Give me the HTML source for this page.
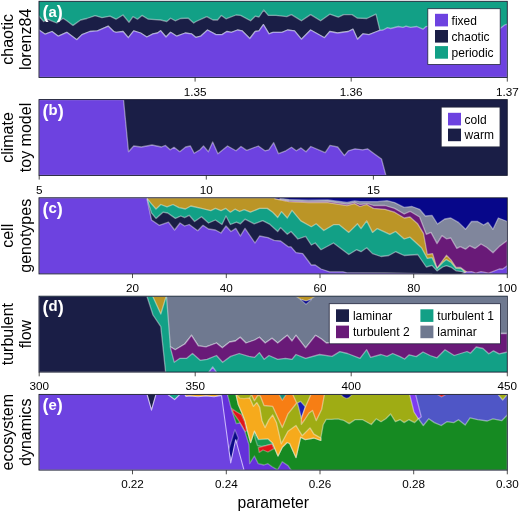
<!DOCTYPE html>
<html lang="en"><head><meta charset="utf-8"><title>figure</title>
<style>html,body{margin:0;padding:0;background:#fff;}body{width:520px;height:513px;overflow:hidden;}svg{display:block;}</style>
</head><body>
<svg width="520" height="513" viewBox="0 0 520 513" font-family="'Liberation Sans', sans-serif">
<defs>
<clipPath id="clip_a"><rect x="39.0" y="1.3" width="468.3" height="76.1"/></clipPath>
<clipPath id="clip_b"><rect x="39.0" y="99.6" width="468.3" height="75.8"/></clipPath>
<clipPath id="clip_c"><rect x="39.0" y="197.8" width="468.3" height="76.1"/></clipPath>
<clipPath id="clip_d"><rect x="39.0" y="296.2" width="468.3" height="75.9"/></clipPath>
<clipPath id="clip_e"><rect x="39.0" y="394.4" width="468.3" height="75.7"/></clipPath>
</defs>
<rect x="0.0" y="0.0" width="520.0" height="513.0" fill="#ffffff" stroke="none" stroke-width="0"/>
<g clip-path="url(#clip_a)">
<rect x="39.0" y="1.3" width="468.3" height="76.1" fill="#12a086" stroke="none" stroke-width="0"/>
<polygon points="39.0,16.2 43.7,21.5 47.5,19.2 51.4,20.8 56.8,23.0 63.0,18.2 66.8,20.8 73.0,25.4 80.6,20.0 86.8,18.5 95.2,15.7 102.0,17.7 110.0,16.2 116.0,19.2 123.0,15.0 129.0,22.3 133.0,16.6 137.5,19.2 142.0,15.4 148.3,19.2 160.6,20.0 166.8,21.5 170.6,18.2 175.2,20.8 180.6,18.5 188.3,18.2 193.7,23.0 196.0,21.5 206.8,16.6 213.0,20.0 217.5,20.0 221.4,15.4 226.0,18.8 236.0,15.0 240.6,15.4 250.6,20.8 255.2,16.2 259.0,17.0 263.7,10.0 268.3,15.4 276.0,15.4 286.8,16.6 291.4,14.6 301.4,20.8 310.6,14.6 320.6,20.8 329.8,14.2 338.3,17.2 343.7,14.6 352.0,14.6 357.5,18.2 366.8,18.5 376.0,14.2 379.8,30.0 379.8,30.3 376.8,31.5 369.0,34.6 363.0,33.8 357.5,39.2 353.0,29.2 348.3,31.5 337.5,33.0 329.8,31.5 324.5,37.7 310.6,30.0 301.4,39.2 294.5,30.8 287.5,30.0 282.0,32.3 273.0,32.3 269.0,33.8 263.4,24.6 259.0,30.8 255.2,31.5 249.8,38.5 242.0,30.8 237.5,30.0 231.4,32.3 226.8,31.5 222.0,34.6 216.0,34.6 207.5,30.0 200.6,36.2 196.0,37.4 191.4,33.8 185.2,33.0 176.8,36.2 170.6,32.3 166.0,37.0 160.6,30.8 157.5,33.0 153.0,33.8 146.8,37.0 140.6,33.0 133.7,30.8 128.3,37.7 123.0,31.5 116.0,32.3 113.7,31.5 108.3,26.2 97.5,30.8 89.8,31.5 82.0,34.6 76.8,39.7 66.8,32.3 58.3,36.2 52.0,31.5 45.2,34.2 39.0,30.0" fill="#1a1e46" stroke="#ffffff" stroke-opacity="0.42" stroke-width="1.3" stroke-linejoin="round"/>
<polygon points="39.0,30.0 45.2,34.2 52.0,31.5 58.3,36.2 66.8,32.3 76.8,39.7 82.0,34.6 89.8,31.5 97.5,30.8 108.3,26.2 113.7,31.5 116.0,32.3 123.0,31.5 128.3,37.7 133.7,30.8 140.6,33.0 146.8,37.0 153.0,33.8 157.5,33.0 160.6,30.8 166.0,37.0 170.6,32.3 176.8,36.2 185.2,33.0 191.4,33.8 196.0,37.4 200.6,36.2 207.5,30.0 216.0,34.6 222.0,34.6 226.8,31.5 231.4,32.3 237.5,30.0 242.0,30.8 249.8,38.5 255.2,31.5 259.0,30.8 263.4,24.6 269.0,33.8 273.0,32.3 282.0,32.3 287.5,30.0 294.5,30.8 301.4,39.2 310.6,30.0 324.5,37.7 329.8,31.5 337.5,33.0 348.3,31.5 353.0,29.2 357.5,39.2 363.0,33.8 369.0,34.6 376.8,31.5 379.8,30.3 383.0,30.0 387.5,27.7 390.6,28.5 398.3,26.5 403.0,27.4 406.0,26.2 410.6,27.4 416.8,26.5 423.0,29.2 426.0,26.6 432.0,25.5 440.0,26.3 448.0,25.2 456.0,26.4 464.0,25.4 472.0,26.6 480.0,25.6 488.0,27.2 495.0,26.4 499.8,28.8 504.6,25.0 507.3,24.2 507.3,77.4 39.0,77.4" fill="#6d42e0" stroke="#ffffff" stroke-opacity="0.42" stroke-width="1.3" stroke-linejoin="round"/>
</g>
<rect x="39.0" y="1.3" width="468.3" height="76.1" fill="none" stroke="#15182e" stroke-width="0.9"/>
<rect x="427.8" y="8.7" width="72.4" height="55.8" fill="#ffffff" stroke="#23263d" stroke-width="0.8"/>
<rect x="435.0" y="13.8" width="13.0" height="12.6" fill="#6d42e0" stroke="none" stroke-width="0"/>
<text x="451.6" y="24.5" font-size="12" text-anchor="start" font-weight="normal" fill="#000">fixed</text>
<rect x="435.0" y="30.0" width="13.0" height="12.6" fill="#1a1e46" stroke="none" stroke-width="0"/>
<text x="451.6" y="40.7" font-size="12" text-anchor="start" font-weight="normal" fill="#000">chaotic</text>
<rect x="435.0" y="46.1" width="13.0" height="12.6" fill="#12a086" stroke="none" stroke-width="0"/>
<text x="451.6" y="56.8" font-size="12" text-anchor="start" font-weight="normal" fill="#000">periodic</text>
<line x1="195.1" y1="77.4" x2="195.1" y2="81.6" stroke="#222" stroke-width="0.8"/>
<text x="195.1" y="95.7" font-size="11.7" text-anchor="middle" font-weight="normal" fill="#000">1.35</text>
<line x1="351.2" y1="77.4" x2="351.2" y2="81.6" stroke="#222" stroke-width="0.8"/>
<text x="351.2" y="95.7" font-size="11.7" text-anchor="middle" font-weight="normal" fill="#000">1.36</text>
<line x1="507.3" y1="77.4" x2="507.3" y2="81.6" stroke="#222" stroke-width="0.8"/>
<text x="507.3" y="95.7" font-size="11.7" text-anchor="middle" font-weight="normal" fill="#000">1.37</text>
<text x="13.1" y="39.4" font-size="16" text-anchor="middle" font-weight="normal" fill="#000" transform="rotate(-90 13.1 39.4)">chaotic</text>
<text x="30.8" y="39.4" font-size="16" text-anchor="middle" font-weight="normal" fill="#000" transform="rotate(-90 30.8 39.4)">lorenz84</text>
<text x="42.5" y="18.2" font-weight="bold" fill="#ffffff"><tspan font-size="18.1">(</tspan><tspan font-size="14.9" dy="-1.7">a</tspan><tspan font-size="18.1" dy="1.7">)</tspan></text>
<g clip-path="url(#clip_b)">
<rect x="39.0" y="99.6" width="468.3" height="75.8" fill="#1a1e46" stroke="none" stroke-width="0"/>
<polygon points="39.0,99.6 123.5,99.6 128.5,151.7 133.7,146.0 141.3,147.0 152.0,145.0 161.5,147.0 165.4,145.4 170.2,149.8 174.0,147.3 179.8,151.7 185.6,147.0 190.4,146.0 194.2,153.2 200.0,149.8 203.5,146.0 208.3,151.7 212.7,142.0 217.9,153.7 227.5,146.0 236.0,150.8 241.0,146.5 246.7,150.4 258.3,146.0 265.0,150.8 268.8,149.8 273.7,142.7 278.5,153.7 285.8,150.8 291.5,147.3 296.3,150.8 301.0,147.9 306.0,151.7 310.8,146.5 325.2,152.7 330.0,145.4 337.7,147.0 344.4,155.6 348.3,150.8 355.0,148.8 362.7,149.8 367.5,148.8 374.2,153.7 381.5,159.0 385.9,175.4 39.0,175.4" fill="#6d42e0" stroke="#ffffff" stroke-opacity="0.42" stroke-width="1.3" stroke-linejoin="round"/>
</g>
<rect x="39.0" y="99.6" width="468.3" height="75.8" fill="none" stroke="#15182e" stroke-width="0.9"/>
<rect x="441.2" y="107.1" width="58.8" height="39.8" fill="#ffffff" stroke="#23263d" stroke-width="0.8"/>
<rect x="448.0" y="112.8" width="13.0" height="12.6" fill="#6d42e0" stroke="none" stroke-width="0"/>
<text x="464.6" y="123.5" font-size="12" text-anchor="start" font-weight="normal" fill="#000">cold</text>
<rect x="448.0" y="128.6" width="13.0" height="12.6" fill="#1a1e46" stroke="none" stroke-width="0"/>
<text x="464.6" y="139.3" font-size="12" text-anchor="start" font-weight="normal" fill="#000">warm</text>
<line x1="39.2" y1="175.4" x2="39.2" y2="179.6" stroke="#222" stroke-width="0.8"/>
<text x="39.2" y="193.7" font-size="11.7" text-anchor="middle" font-weight="normal" fill="#000">5</text>
<line x1="206.3" y1="175.4" x2="206.3" y2="179.6" stroke="#222" stroke-width="0.8"/>
<text x="206.3" y="193.7" font-size="11.7" text-anchor="middle" font-weight="normal" fill="#000">10</text>
<line x1="373.4" y1="175.4" x2="373.4" y2="179.6" stroke="#222" stroke-width="0.8"/>
<text x="373.4" y="193.7" font-size="11.7" text-anchor="middle" font-weight="normal" fill="#000">15</text>
<text x="13.1" y="137.5" font-size="16" text-anchor="middle" font-weight="normal" fill="#000" transform="rotate(-90 13.1 137.5)">climate</text>
<text x="30.8" y="137.5" font-size="16" text-anchor="middle" font-weight="normal" fill="#000" transform="rotate(-90 30.8 137.5)">toy model</text>
<text x="42.5" y="116.5" font-weight="bold" fill="#ffffff"><tspan font-size="18.1">(</tspan><tspan font-size="14.9" dy="-1.7">b</tspan><tspan font-size="18.1" dy="1.7">)</tspan></text>
<g clip-path="url(#clip_c)">
<rect x="39.0" y="197.8" width="468.3" height="76.1" fill="#07078a" stroke="none" stroke-width="0"/>
<polygon points="280.0,198.2 289.0,199.6 308.5,200.2 327.7,200.0 347.0,202.4 354.6,200.9 360.0,201.7 367.7,201.7 377.3,201.7 387.0,200.7 394.6,202.6 404.2,207.4 412.0,206.5 419.6,209.3 425.4,216.0 432.0,215.4 437.5,224.0 444.7,219.0 450.8,218.0 458.5,222.4 465.5,229.3 471.5,221.5 477.6,221.5 483.6,225.0 488.0,222.4 493.0,229.3 498.3,218.0 507.3,221.5 507.3,273.9 280.0,273.9" fill="#80869c" stroke="#ffffff" stroke-opacity="0.42" stroke-width="1.3" stroke-linejoin="round"/>
<polygon points="274.8,198.6 289.0,200.9 308.5,201.6 327.7,201.4 347.0,204.2 354.6,202.4 360.0,204.5 367.7,203.6 373.5,205.5 385.0,205.5 394.6,208.4 404.2,214.0 410.0,211.3 419.6,217.0 426.3,234.3 431.0,232.4 437.0,243.6 442.0,235.6 446.4,238.8 450.8,238.0 456.8,248.4 460.3,246.6 465.5,249.2 469.8,245.8 475.0,248.4 481.0,244.0 487.0,247.5 493.0,252.7 499.2,246.6 507.3,240.6 507.3,273.9 274.8,273.9" fill="#691a78" stroke="#ffffff" stroke-opacity="0.42" stroke-width="1.3" stroke-linejoin="round"/>
<polygon points="147.0,197.8 274.8,197.8 274.8,198.8 289.0,201.7 308.5,202.6 327.7,202.6 347.0,205.5 354.6,203.6 360.0,206.5 366.7,204.5 373.5,208.4 385.0,209.3 394.6,212.2 404.2,218.0 410.0,217.0 417.7,223.8 423.5,233.4 427.3,254.5 432.6,253.6 437.0,268.3 446.4,255.3 450.8,259.6 456.0,267.4 460.3,267.4 466.3,271.7 466.3,273.9 147.0,273.9" fill="#bb9526" stroke="#ffffff" stroke-opacity="0.42" stroke-width="1.3" stroke-linejoin="round"/>
<polygon points="147.0,198.4 151.5,203.8 156.0,209.0 160.8,204.5 167.0,206.8 173.0,204.5 179.0,207.6 185.4,209.0 190.8,206.0 201.5,208.4 210.8,210.7 215.4,208.4 221.0,210.7 225.8,208.4 230.4,212.2 235.0,209.2 239.6,211.5 244.2,209.6 250.4,212.2 259.6,208.4 267.3,208.4 272.7,212.2 277.7,217.5 281.5,211.6 287.3,218.0 292.0,210.3 300.8,220.9 311.3,226.7 316.2,223.8 323.8,230.5 333.5,224.7 339.2,224.7 348.8,232.4 357.5,223.8 361.0,228.6 366.7,220.9 372.5,232.4 377.3,228.6 389.8,234.3 395.6,231.5 404.2,239.0 410.0,237.2 421.5,247.8 427.3,258.4 432.0,257.6 437.0,268.6 442.7,262.6 446.4,259.6 450.8,262.2 456.0,268.3 461.0,268.6 464.6,271.7 464.6,273.9 147.0,273.9" fill="#12a086" stroke="#ffffff" stroke-opacity="0.42" stroke-width="1.3" stroke-linejoin="round"/>
<polygon points="147.0,198.8 151.5,213.0 156.0,218.4 163.0,212.2 167.7,213.0 175.4,218.4 180.8,216.0 184.6,217.6 189.2,215.3 194.6,221.5 201.5,216.8 208.5,223.0 215.4,220.0 222.0,224.5 226.0,216.0 230.4,224.5 236.5,222.2 240.4,223.8 245.0,219.2 254.2,223.8 262.7,220.7 270.0,224.4 277.7,231.5 280.6,227.6 287.3,234.3 291.0,231.5 297.9,239.0 305.6,236.3 311.3,245.0 315.2,243.0 321.0,249.7 333.5,243.0 348.8,254.5 356.5,249.7 361.0,251.7 366.7,247.8 372.5,253.6 381.0,256.5 388.8,255.5 395.6,251.7 404.2,255.5 417.7,254.5 426.3,267.0 432.0,265.4 437.0,270.9 442.7,267.0 446.4,265.7 451.6,267.4 456.0,270.8 462.0,271.7 465.0,272.6 465.0,273.9 147.0,273.9" fill="#1a1e46" stroke="#ffffff" stroke-opacity="0.42" stroke-width="1.3" stroke-linejoin="round"/>
<polygon points="39.0,197.8 147.0,197.8 147.0,199.0 151.5,220.0 159.2,225.3 168.5,222.2 174.6,230.0 180.0,223.0 184.6,226.0 189.2,224.5 197.7,230.7 203.0,225.3 208.5,229.0 215.4,230.0 221.0,233.0 226.0,226.0 231.0,231.5 235.8,228.4 240.4,236.0 245.0,228.4 255.0,243.0 259.6,236.0 268.0,237.6 274.2,240.4 280.6,241.0 288.3,246.8 291.0,246.8 296.0,252.6 302.7,253.6 311.3,265.0 315.2,265.0 321.0,269.0 329.6,271.8 343.0,271.8 347.0,272.8 385.0,272.9 432.0,273.9 39.0,273.9" fill="#6d42e0" stroke="#ffffff" stroke-opacity="0.42" stroke-width="1.3" stroke-linejoin="round"/>
<polygon points="462.0,273.9 466.3,271.9 471.5,271.7 475.8,273.2 481.0,271.7 488.8,273.2 499.2,269.0 502.7,269.0 507.3,265.7 507.3,273.9 462.0,273.9" fill="#6d42e0" stroke="#ffffff" stroke-opacity="0.42" stroke-width="1.3" stroke-linejoin="round"/>
</g>
<rect x="39.0" y="197.8" width="468.3" height="76.1" fill="none" stroke="#15182e" stroke-width="0.9"/>
<line x1="132.5" y1="273.9" x2="132.5" y2="278.1" stroke="#222" stroke-width="0.8"/>
<text x="132.5" y="292.2" font-size="11.7" text-anchor="middle" font-weight="normal" fill="#000">20</text>
<line x1="226.3" y1="273.9" x2="226.3" y2="278.1" stroke="#222" stroke-width="0.8"/>
<text x="226.3" y="292.2" font-size="11.7" text-anchor="middle" font-weight="normal" fill="#000">40</text>
<line x1="320.0" y1="273.9" x2="320.0" y2="278.1" stroke="#222" stroke-width="0.8"/>
<text x="320.0" y="292.2" font-size="11.7" text-anchor="middle" font-weight="normal" fill="#000">60</text>
<line x1="413.7" y1="273.9" x2="413.7" y2="278.1" stroke="#222" stroke-width="0.8"/>
<text x="413.7" y="292.2" font-size="11.7" text-anchor="middle" font-weight="normal" fill="#000">80</text>
<line x1="507.3" y1="273.9" x2="507.3" y2="278.1" stroke="#222" stroke-width="0.8"/>
<text x="507.3" y="292.2" font-size="11.7" text-anchor="middle" font-weight="normal" fill="#000">100</text>
<text x="13.1" y="235.8" font-size="16" text-anchor="middle" font-weight="normal" fill="#000" transform="rotate(-90 13.1 235.8)">cell</text>
<text x="30.8" y="235.8" font-size="16" text-anchor="middle" font-weight="normal" fill="#000" transform="rotate(-90 30.8 235.8)">genotypes</text>
<text x="42.5" y="214.7" font-weight="bold" fill="#ffffff"><tspan font-size="18.1">(</tspan><tspan font-size="14.9" dy="-1.7">c</tspan><tspan font-size="18.1" dy="1.7">)</tspan></text>
<g clip-path="url(#clip_d)">
<rect x="39.0" y="296.2" width="468.3" height="75.9" fill="#12a086" stroke="none" stroke-width="0"/>
<polygon points="39.0,296.2 146.9,296.2 153.0,315.0 160.8,326.6 165.6,372.1 39.0,372.1" fill="#1a1e46" stroke="#ffffff" stroke-opacity="0.42" stroke-width="1.3" stroke-linejoin="round"/>
<polygon points="152.7,296.2 166.2,296.2 160.8,314.0" fill="#bb9526" stroke="#ffffff" stroke-opacity="0.42" stroke-width="1.3" stroke-linejoin="round"/>
<polygon points="166.5,296.2 507.3,296.2 507.3,333.5 500.0,333.5 480.0,334.3 460.0,335.0 440.0,335.5 420.0,336.0 400.0,337.0 380.0,339.0 360.0,340.0 340.0,342.0 326.3,343.0 321.5,339.0 315.5,335.3 305.6,347.8 296.0,335.3 292.0,341.0 287.3,335.3 277.7,343.0 272.0,338.2 265.2,343.0 259.4,337.2 254.6,340.0 246.0,343.0 240.2,337.2 235.4,341.0 229.6,342.0 222.3,347.8 216.5,343.0 206.0,346.8 198.3,345.8 191.5,335.3 184.8,344.0 175.2,349.7 170.4,346.8" fill="#6f7990" stroke="#ffffff" stroke-opacity="0.42" stroke-width="1.3" stroke-linejoin="round"/>
<polygon points="170.4,346.8 175.2,349.7 184.8,344.0 191.5,335.3 198.3,345.8 206.0,346.8 216.5,343.0 222.3,347.8 229.6,342.0 235.4,341.0 240.2,337.2 246.0,343.0 254.6,340.0 259.4,337.2 265.2,343.0 272.0,338.2 277.7,343.0 287.3,335.3 292.0,341.0 296.0,335.3 305.6,347.8 315.5,335.3 321.5,339.0 326.3,343.0 340.0,342.0 360.0,340.0 380.0,339.0 400.0,337.0 420.0,336.0 440.0,335.5 460.0,335.0 480.0,334.3 500.0,333.5 507.3,333.5 507.3,352.0 499.2,353.8 493.5,350.8 488.8,353.8 483.0,348.5 476.2,347.0 470.4,353.2 467.0,351.5 454.2,355.5 445.0,349.7 437.0,357.8 430.0,355.5 423.0,352.0 416.2,356.6 409.2,354.8 404.6,359.0 400.0,356.6 392.7,353.5 387.0,356.4 381.0,354.5 370.6,357.4 366.7,349.7 360.0,358.3 347.5,353.5 339.8,351.6 332.0,356.4 319.6,354.5 305.6,358.3 296.0,354.5 292.0,359.3 285.4,358.3 277.7,359.3 269.0,355.5 264.2,359.3 259.4,352.6 254.6,357.4 248.8,356.4 239.2,353.5 230.6,356.4 222.6,362.2 216.5,355.5 207.0,359.3 200.2,360.3 192.5,353.5 186.7,358.3 180.0,358.3 174.2,362.2 170.4,347.8" fill="#691a78" stroke="#ffffff" stroke-opacity="0.42" stroke-width="1.3" stroke-linejoin="round"/>
<polygon points="296.0,296.2 315.0,296.2 310.0,299.6 306.0,301.0 301.0,299.6" fill="#bb9526" stroke="#ffffff" stroke-opacity="0.3" stroke-width="1.3" stroke-linejoin="round"/>
<polygon points="300.5,299.4 306.0,301.0 311.5,299.4 306.0,304.2" fill="#07078a" stroke="#ffffff" stroke-opacity="0.3" stroke-width="1.3" stroke-linejoin="round"/>
<polygon points="208.8,372.1 212.7,367.0 216.5,372.1" fill="#6d42e0" stroke="#ffffff" stroke-opacity="0.42" stroke-width="1.3" stroke-linejoin="round"/>
</g>
<rect x="39.0" y="296.2" width="468.3" height="75.9" fill="none" stroke="#15182e" stroke-width="0.9"/>
<rect x="329.2" y="303.7" width="171.2" height="40.1" fill="#ffffff" stroke="#23263d" stroke-width="0.8"/>
<rect x="336.0" y="309.3" width="13.0" height="12.6" fill="#1a1e46" stroke="none" stroke-width="0"/>
<text x="352.9" y="320.0" font-size="12" text-anchor="start" font-weight="normal" fill="#000">laminar</text>
<rect x="336.0" y="325.6" width="13.0" height="12.6" fill="#691a78" stroke="none" stroke-width="0"/>
<text x="352.9" y="336.3" font-size="12" text-anchor="start" font-weight="normal" fill="#000">turbulent 2</text>
<rect x="420.4" y="309.3" width="13.0" height="12.6" fill="#12a086" stroke="none" stroke-width="0"/>
<text x="437.3" y="320.0" font-size="12" text-anchor="start" font-weight="normal" fill="#000">turbulent 1</text>
<rect x="420.4" y="325.6" width="13.0" height="12.6" fill="#6f7990" stroke="none" stroke-width="0"/>
<text x="437.3" y="336.3" font-size="12" text-anchor="start" font-weight="normal" fill="#000">laminar</text>
<line x1="39.2" y1="372.1" x2="39.2" y2="376.3" stroke="#222" stroke-width="0.8"/>
<text x="39.2" y="390.4" font-size="11.7" text-anchor="middle" font-weight="normal" fill="#000">300</text>
<line x1="195.2" y1="372.1" x2="195.2" y2="376.3" stroke="#222" stroke-width="0.8"/>
<text x="195.2" y="390.4" font-size="11.7" text-anchor="middle" font-weight="normal" fill="#000">350</text>
<line x1="351.2" y1="372.1" x2="351.2" y2="376.3" stroke="#222" stroke-width="0.8"/>
<text x="351.2" y="390.4" font-size="11.7" text-anchor="middle" font-weight="normal" fill="#000">400</text>
<line x1="507.3" y1="372.1" x2="507.3" y2="376.3" stroke="#222" stroke-width="0.8"/>
<text x="507.3" y="390.4" font-size="11.7" text-anchor="middle" font-weight="normal" fill="#000">450</text>
<text x="13.1" y="334.1" font-size="16" text-anchor="middle" font-weight="normal" fill="#000" transform="rotate(-90 13.1 334.1)">turbulent</text>
<text x="30.8" y="334.1" font-size="16" text-anchor="middle" font-weight="normal" fill="#000" transform="rotate(-90 30.8 334.1)">flow</text>
<text x="42.5" y="313.1" font-weight="bold" fill="#ffffff"><tspan font-size="18.1">(</tspan><tspan font-size="14.9" dy="-1.7">d</tspan><tspan font-size="18.1" dy="1.7">)</tspan></text>
<g clip-path="url(#clip_e)">
<rect x="39.0" y="394.4" width="468.3" height="75.7" fill="#9fac14" stroke="none" stroke-width="0"/>
<polygon points="414.6,394.4 507.3,394.4 507.3,430.0 418.0,430.0 418.5,417.8" fill="#4f56c6" stroke="#ffffff" stroke-opacity="0.3" stroke-width="1.3" stroke-linejoin="round"/>
<polygon points="409.6,394.4 415.6,394.4 421.3,416.8 418.5,419.0 414.0,412.0" fill="#7d3cf0" stroke="#ffffff" stroke-opacity="0.42" stroke-width="1.3" stroke-linejoin="round"/>
<polygon points="437.3,394.4 446.0,394.4 441.5,396.9" fill="#e0141a" stroke="#ffffff" stroke-opacity="0.3" stroke-width="1.3" stroke-linejoin="round"/>
<polygon points="497.9,394.4 507.5,394.4 502.7,400.0" fill="#9fac14" stroke="#ffffff" stroke-opacity="0.42" stroke-width="1.3" stroke-linejoin="round"/>
<polygon points="340.6,394.4 352.3,394.4 349.0,397.6 346.5,398.4 343.5,397.0" fill="#0a0a86" stroke="#ffffff" stroke-opacity="0.3" stroke-width="1.3" stroke-linejoin="round"/>
<polygon points="251.5,394.4 254.4,400.7 257.8,395.4 260.2,395.8 264.0,405.5 272.7,406.4 277.5,417.0 282.3,427.6 285.2,420.8 288.0,413.8 296.7,403.0 292.8,394.4" fill="#f77e14" stroke="#ffffff" stroke-opacity="0.42" stroke-width="1.3" stroke-linejoin="round"/>
<polygon points="279.0,394.4 282.3,400.2 286.2,394.4" fill="#15907a" stroke="#ffffff" stroke-opacity="0.3" stroke-width="1.3" stroke-linejoin="round"/>
<polygon points="297.5,403.0 300.6,401.4 305.3,406.8 301.4,418.5" fill="#1c1cb4" stroke="#ffffff" stroke-opacity="0.4" stroke-width="1.3" stroke-linejoin="round"/>
<polygon points="310.9,394.4 324.4,394.4 321.7,409.2 316.2,420.6 312.5,410.4 309.0,413.0 304.8,419.5 301.3,424.3 301.4,418.5 305.6,406.4" fill="#f77e14" stroke="#ffffff" stroke-opacity="0.42" stroke-width="1.3" stroke-linejoin="round"/>
<polygon points="227.4,394.4 236.0,394.4 238.3,404.5 242.1,413.2 245.0,420.8 247.2,430.0 250.6,442.5 254.4,431.0 258.3,439.6 267.9,439.1 272.7,443.5 278.0,456.0 282.3,447.3 287.1,442.5 289.7,443.5 296.0,457.5 300.6,437.2 305.3,439.6 313.9,438.0 320.8,440.4 320.8,438.0 323.2,424.8 326.3,419.3 331.8,419.3 337.7,418.8 343.5,420.3 349.2,423.6 355.0,419.7 362.7,419.7 371.3,424.5 376.2,418.8 381.0,421.7 385.8,418.8 390.6,414.0 395.4,421.7 400.2,419.7 404.0,422.6 408.8,419.7 414.6,422.6 418.5,418.8 423.3,425.5 428.7,418.8 434.4,422.6 441.2,425.5 446.9,421.7 453.7,422.6 458.5,419.7 465.2,425.0 470.0,417.8 477.7,419.7 487.3,421.0 493.0,418.8 501.7,420.7 507.3,415.0 507.3,470.1 227.4,470.1" fill="#168a22" stroke="#ffffff" stroke-opacity="0.42" stroke-width="1.3" stroke-linejoin="round"/>
<polygon points="236.0,394.4 240.0,395.8 249.6,397.8 253.5,406.4 256.8,402.6 259.7,407.4 262.0,420.8 265.0,427.6 268.8,419.9 272.7,415.0 276.5,422.8 281.3,443.8 288.0,431.3 296.0,425.5 302.2,435.7 310.0,427.9 313.9,434.1 320.8,438.0 320.8,440.4 313.9,438.0 305.3,439.6 300.6,437.2 296.0,457.5 289.7,443.5 287.1,442.5 282.3,447.3 278.0,456.0 272.7,443.5 267.9,439.1 258.3,439.6 254.4,431.0 250.6,442.5 247.2,430.0 245.0,420.8 242.1,413.2 238.3,404.5 236.0,394.4" fill="#f6aa1c" stroke="#ffffff" stroke-opacity="0.42" stroke-width="1.3" stroke-linejoin="round"/>
<polygon points="236.5,394.4 251.5,394.4 249.6,397.8 244.0,398.6 240.0,398.2" fill="#9fac14" stroke="#ffffff" stroke-opacity="0.3" stroke-width="1.3" stroke-linejoin="round"/>
<polygon points="254.4,432.0 258.3,439.6 267.9,439.1 272.7,443.5 271.7,444.4 262.0,446.5 257.5,445.5 255.0,438.0" fill="#179a52" stroke="#ffffff" stroke-opacity="0.3" stroke-width="1.3" stroke-linejoin="round"/>
<polygon points="258.3,447.6 271.9,444.0 274.0,448.6 267.9,452.0 263.0,450.0 259.2,452.4" fill="#e0141a" stroke="#ffffff" stroke-opacity="0.3" stroke-width="1.3" stroke-linejoin="round"/>
<polygon points="231.3,408.2 236.8,412.0 241.4,414.6 244.6,421.5 246.7,430.5 245.0,432.0 242.3,426.5 238.3,420.0 233.6,413.4" fill="#e0141a" stroke="#ffffff" stroke-opacity="0.3" stroke-width="1.3" stroke-linejoin="round"/>
<polygon points="221.4,394.4 227.4,394.4 231.6,410.0 236.3,423.7 239.9,423.0 244.8,431.4 249.0,444.7 249.6,463.7 254.4,456.0 258.3,463.7 264.0,465.0 267.9,463.7 271.7,466.5 277.5,469.9 282.3,461.7 288.0,465.6 291.2,470.1 221.4,470.1" fill="#6431da" stroke="#ffffff" stroke-opacity="0.3" stroke-width="1.3" stroke-linejoin="round"/>
<polygon points="234.9,429.8 238.2,438.0 231.5,459.6 228.3,451.3" fill="#0a0a86" stroke="#ffffff" stroke-opacity="0.3" stroke-width="1.3" stroke-linejoin="round"/>
<polygon points="147.0,394.4 156.0,394.4 151.5,410.2" fill="#1a1e46" stroke="#ffffff" stroke-opacity="0.3" stroke-width="1.3" stroke-linejoin="round"/>
<polygon points="167.5,394.4 180.0,394.4 174.6,399.6" fill="#12a086" stroke="#ffffff" stroke-opacity="0.3" stroke-width="1.3" stroke-linejoin="round"/>
<polygon points="184.8,394.4 221.0,394.4 220.4,395.6 214.0,396.8 206.0,396.0 198.0,396.8 190.0,396.0 186.0,396.4" fill="#f6aa1c" stroke="#ffffff" stroke-opacity="0.3" stroke-width="1.3" stroke-linejoin="round"/>
<polygon points="39.0,394.4 147.0,394.4 151.5,410.2 156.0,394.4 167.5,394.4 174.6,399.6 180.0,394.4 184.8,394.4 186.0,396.4 190.0,396.0 198.0,396.8 206.0,396.0 214.0,396.8 220.4,395.6 221.6,396.0 230.7,463.0 235.7,439.7 244.0,470.1 39.0,470.1" fill="#6d42e0" stroke="#d9ccff" stroke-opacity="0.85" stroke-width="1.1" stroke-linejoin="round"/>
</g>
<rect x="39.0" y="394.4" width="468.3" height="75.7" fill="none" stroke="#15182e" stroke-width="0.9"/>
<line x1="132.5" y1="470.1" x2="132.5" y2="474.3" stroke="#222" stroke-width="0.8"/>
<text x="132.5" y="488.4" font-size="11.7" text-anchor="middle" font-weight="normal" fill="#000">0.22</text>
<line x1="226.3" y1="470.1" x2="226.3" y2="474.3" stroke="#222" stroke-width="0.8"/>
<text x="226.3" y="488.4" font-size="11.7" text-anchor="middle" font-weight="normal" fill="#000">0.24</text>
<line x1="320.0" y1="470.1" x2="320.0" y2="474.3" stroke="#222" stroke-width="0.8"/>
<text x="320.0" y="488.4" font-size="11.7" text-anchor="middle" font-weight="normal" fill="#000">0.26</text>
<line x1="413.7" y1="470.1" x2="413.7" y2="474.3" stroke="#222" stroke-width="0.8"/>
<text x="413.7" y="488.4" font-size="11.7" text-anchor="middle" font-weight="normal" fill="#000">0.28</text>
<line x1="507.3" y1="470.1" x2="507.3" y2="474.3" stroke="#222" stroke-width="0.8"/>
<text x="507.3" y="488.4" font-size="11.7" text-anchor="middle" font-weight="normal" fill="#000">0.30</text>
<text x="13.1" y="432.2" font-size="16" text-anchor="middle" font-weight="normal" fill="#000" transform="rotate(-90 13.1 432.2)">ecosystem</text>
<text x="30.8" y="432.2" font-size="16" text-anchor="middle" font-weight="normal" fill="#000" transform="rotate(-90 30.8 432.2)">dynamics</text>
<text x="42.5" y="411.3" font-weight="bold" fill="#ffffff"><tspan font-size="18.1">(</tspan><tspan font-size="14.9" dy="-1.7">e</tspan><tspan font-size="18.1" dy="1.7">)</tspan></text>
<text x="273.3" y="508.0" font-size="15.7" text-anchor="middle" font-weight="normal" fill="#000">parameter</text>
</svg>
</body></html>
